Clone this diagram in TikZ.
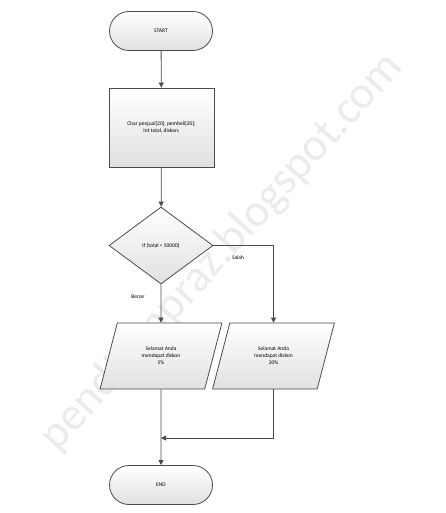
\documentclass[tikz,border=0pt]{standalone}
\usepackage{fontspec}
\setmainfont{Carlito}
\usetikzlibrary{shapes.geometric,shapes.misc,arrows.meta}
\begin{document}
\begin{tikzpicture}[x=1pt,y=-1pt,
  box/.style={draw=black!70,line width=0.8pt,top color=white,bottom color=black!12,font=\fontsize{5.5}{7}\selectfont,align=center,inner sep=0pt},
  term/.style={box,rounded rectangle,minimum width=103pt,minimum height=39pt},
  proc/.style={box,rectangle,minimum width=105pt,minimum height=79pt},
  dec/.style={box,diamond,minimum width=104pt,minimum height=77pt,aspect=1.35},
  io/.style={box,trapezium,trapezium left angle=67,trapezium right angle=113,minimum height=66pt,trapezium stretches=true,minimum width=122pt},
  arr/.style={draw=black!70,line width=0.8pt,-{Triangle[length=5pt,width=5pt]}},
  ln/.style={draw=black!70,line width=0.8pt},
  lbl/.style={font=\fontsize{5.5}{7}\selectfont,inner sep=0pt}]
\useasboundingbox (0,0) rectangle (446,513);
\node[rotate=48,text=black!8,font=\fontsize{46}{50}\selectfont] (wm) at (222,252) {pendtumpraz.blogspot.com};
\node[term] (start) at (161,31) {START};
\node[proc] (decl) at (161.5,127.5) {Char penjual[20], pembeli[20];\\Int total, diskon;};
\node[dec] (if) at (161,245.5) {if (total < 50000)};
\node[io] (d5) at (161,356) {Selamat Anda\\mendapat diskon\\5\%};
\node[io] (d20) at (273.5,356) {Selamat Anda\\mendapat diskon\\20\%};
\node[term] (end) at (161,485) {END};
\coordinate (m) at (161,438);
\node[lbl] (benar) at (138,297) {Benar};
\node[lbl] (salah) at (238,258) {Salah};
\draw[arr] (start) -- (decl);
\draw[arr] (decl) -- (if);
\draw[arr] (if) -- (d5);
\draw[arr] (if.east) -| (d20.north);
\draw[arr] (d5.south) -- (end.north);
\draw[arr] (d20.south) |- (m);
\end{tikzpicture}
\end{document}
